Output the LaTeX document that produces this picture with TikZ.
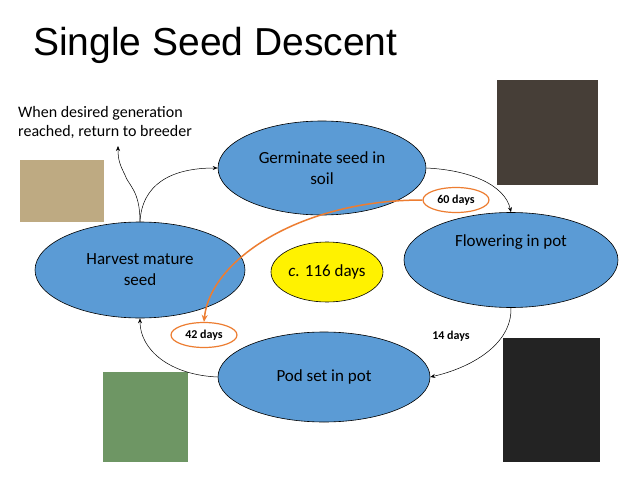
\documentclass[tikz,border=0pt]{standalone}
\usepackage{fontspec}
\setmainfont{Carlito}
\newfontfamily\titlefont{Liberation Sans}
\usetikzlibrary{shapes.geometric,arrows.meta}
\definecolor{blueell}{HTML}{5B9BD5}
\definecolor{orng}{HTML}{ED7D31}
\tikzset{
  stage/.style={ellipse,draw=black,fill=blueell,line width=0.6pt,font=\fontsize{17}{21}\selectfont,align=center,inner sep=0pt},
  days/.style={ellipse,draw=orng,line width=1.2pt,fill=white,font=\bfseries\fontsize{12}{14}\selectfont,minimum width=66pt,minimum height=25pt,inner sep=0pt},
  conn/.style={-{Stealth[length=5pt,width=4pt]},line width=0.5pt},
  photo/.style={draw=none}
}
\begin{document}
\begin{tikzpicture}[x=1pt,y=-1pt]
\useasboundingbox (0,0) rectangle (638,479);
\fill[white] (0,0) rectangle (638,479);
\node[anchor=base west,font=\titlefont\fontsize{39}{45}\selectfont,inner sep=0] (title) at (33,55) {Single Seed Descent};
\node[anchor=north west,align=left,font=\fontsize{16}{19}\selectfont,inner sep=0] (note) at (18,106) {When desired generation\\reached, return to breeder};
\coordinate (noteend) at (118,146);
% photos
\fill[photo,fill={rgb,255:red,190;green,170;blue,130}] (20,160) rectangle (104,222);
\fill[photo,fill={rgb,255:red,70;green,62;blue,55}] (497,80) rectangle (598,185);
\fill[photo,fill={rgb,255:red,35;green,35;blue,35}] (503,338) rectangle (600,462);
\fill[photo,fill={rgb,255:red,110;green,150;blue,100}] (103,372) rectangle (188,462);
% stages
\node[stage,minimum width=208pt,minimum height=94pt] (germ) at (322,168) {Germinate seed in\\soil};
\node[stage,minimum width=214pt,minimum height=95pt] (flow) at (511,260) {Flowering in pot\\[18pt]};
\node[stage,minimum width=210pt,minimum height=96pt] (harv) at (140,270) {Harvest mature\\seed};
\node[stage,minimum width=212pt,minimum height=90pt] (pod) at (324,377) {Pod set in pot};
\node[ellipse,draw=black,fill=yellow,line width=0.6pt,minimum width=112pt,minimum height=60pt,inner sep=0pt,font=\fontsize{17}{21}\selectfont] (tot) at (327,272) {\textit{c.} 116 days};
\node[days] (d60) at (456,200) {60 days};
\node[days] (d42) at (204,335) {42 days};
\node[font=\bfseries\fontsize{12}{14}\selectfont] (d14) at (451,336) {14 days};
% connectors
\draw[conn] (harv.north) .. controls (142,185) and (170,168) .. (germ.west);
\draw[conn] (germ.east) .. controls (470,170) and (505,185) .. (flow.north);
\draw[conn] (flow.south) .. controls (512,345) and (470,368) .. (pod.east);
\draw[conn] (pod.west) .. controls (170,375) and (140,350) .. (harv.south);
\draw[conn] (harv.north) .. controls (140,190) and (128,185) .. (125,175) .. controls (120,165) and (118,160) .. (noteend);
\draw[-{Stealth[length=7pt,width=6pt]},draw=orng,line width=1.5pt] (d60.west) .. controls (300,200) and (210,260) .. (d42.north);
\end{tikzpicture}
\end{document}
